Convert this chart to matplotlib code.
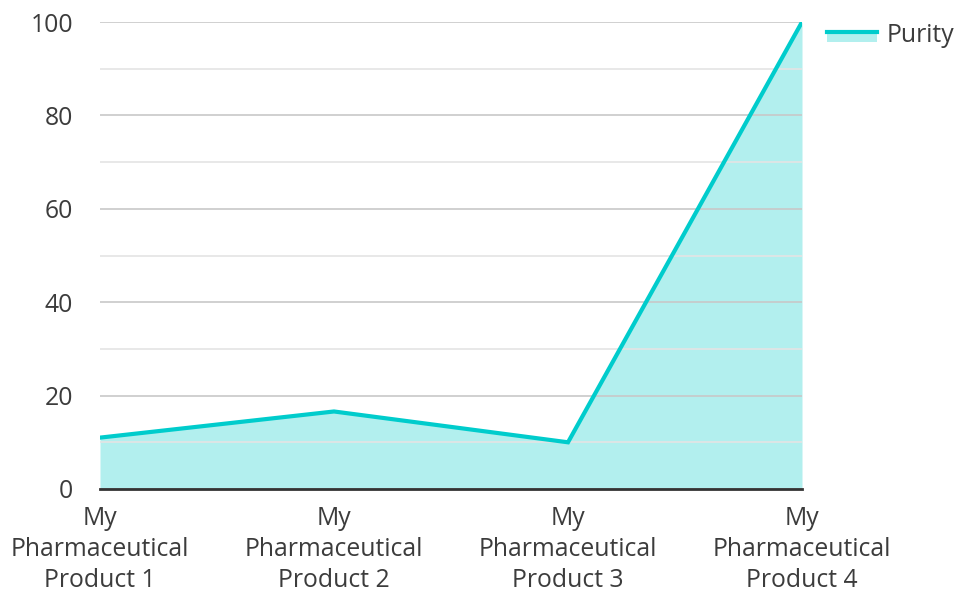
import matplotlib
matplotlib.use("Agg")
import matplotlib.pyplot as plt
from matplotlib.lines import Line2D
from matplotlib.patches import Patch, Rectangle
from matplotlib.legend_handler import HandlerBase

categories = ["My\nPharmaceutical\nProduct 1", "My\nPharmaceutical\nProduct 2",
              "My\nPharmaceutical\nProduct 3", "My\nPharmaceutical\nProduct 4"]
purity = [11.0, 16.6, 10.0, 100.0]
yticks = [0, 20, 40, 60, 80, 100]
minor_yticks = [10, 30, 50, 70, 90]
series_name = "Purity"

plt.rcParams['font.family'] = ['Open Sans', 'DejaVu Sans']

line_color = "#00cccc"
fill_color = "#b2efee"
text_color = "#3c3c3c"
fs = 17.8

fig = plt.figure(figsize=(9.56, 5.92), dpi=100)
ax = fig.add_axes([100/956, 1-489/592, (802-100)/956, (489-22)/592])

x = list(range(len(categories)))
ax.fill_between(x, purity, 0, color=fill_color, linewidth=0, zorder=1)
ax.plot(x, purity, color=line_color, linewidth=3, zorder=3, solid_joinstyle='miter')

ax.set_xlim(0, len(categories)-1)
ax.set_ylim(0, 100)
ax.set_yticks(yticks)
ax.set_yticks(minor_yticks, minor=True)
ax.set_xticks(x)
ax.set_xticklabels(categories, fontsize=fs, color=text_color, linespacing=1.33)
ax.tick_params(axis='y', which='major', length=0, pad=19.5, labelsize=fs, labelcolor=text_color)
ax.tick_params(axis='y', which='minor', length=0)
ax.tick_params(axis='x', length=0, pad=12)
ax.grid(axis='y', which='major', color='#c8c8c8', linewidth=1.2, zorder=2)
ax.grid(axis='y', which='minor', color='#e4e4e4', linewidth=1.2, zorder=2)
ax.set_axisbelow(False)
for s in ['top', 'right', 'left']:
    ax.spines[s].set_visible(False)
ax.spines['bottom'].set_color('#333333')
ax.spines['bottom'].set_linewidth(2)
ax.spines['bottom'].set_zorder(4)


class AreaHandler(HandlerBase):
    def create_artists(self, legend, orig_handle, xdescent, ydescent, width, height, fontsize, trans):
        r = Rectangle((-xdescent, -ydescent), width, height*0.5, facecolor=fill_color,
                      edgecolor='none', transform=trans)
        l = Line2D([-xdescent, -xdescent+width], [-ydescent+height*0.55]*2, color=line_color,
                   linewidth=3, transform=trans)
        return [r, l]

handle = Patch(label=series_name)
leg = fig.legend([handle], [series_name], handler_map={Patch: AreaHandler()},
                 loc='upper left', bbox_to_anchor=(817/956, 1-13/592), frameon=False,
                 fontsize=fs, handlelength=2.02, handletextpad=0.4, borderaxespad=0)
for t in leg.get_texts():
    t.set_color(text_color)

fig.savefig("out.png", dpi=100)
